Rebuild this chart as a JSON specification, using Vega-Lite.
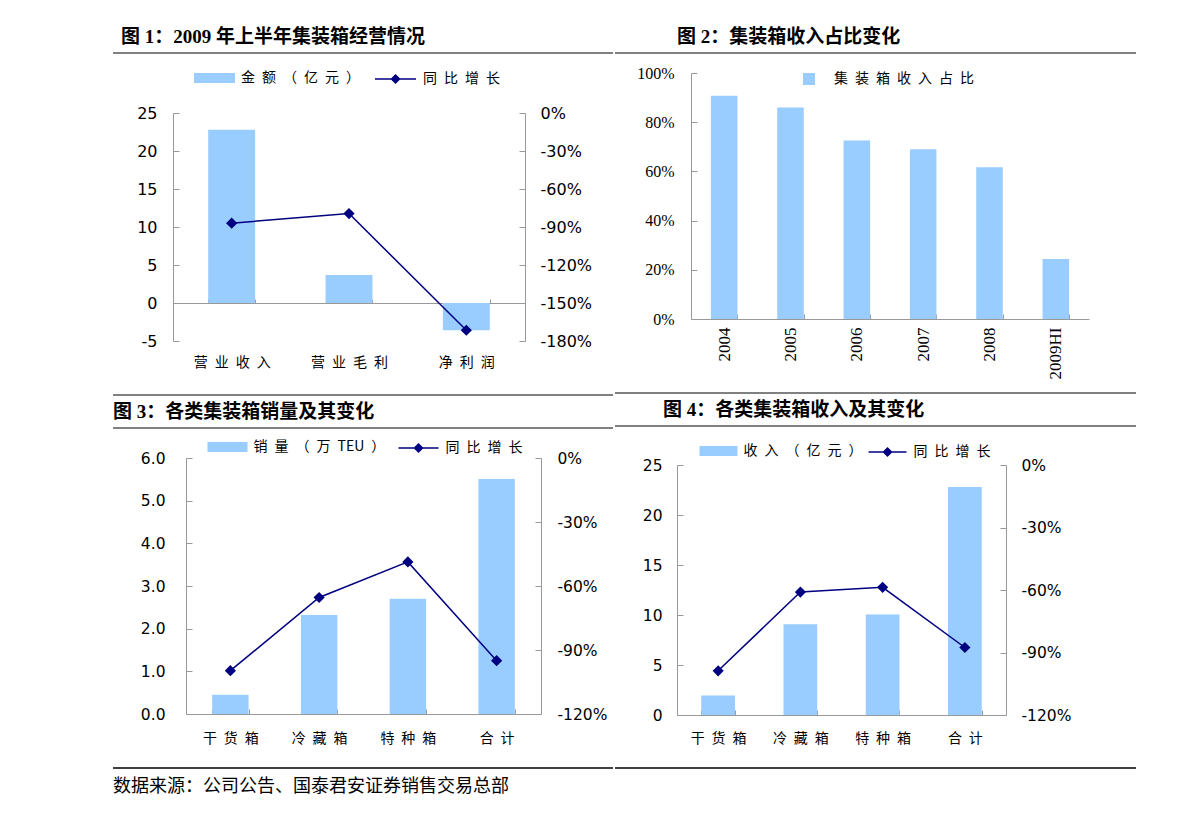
{
  "$schema": "https://vega.github.io/schema/vega-lite/v6.json",
  "background": "white",
  "padding": {"left": 112, "top": 23, "right": 0, "bottom": 0},
  "autosize": {"type": "pad"},
  "config": {
    "view": {"stroke": null},
    "axis": {"domainColor": "#999999", "tickColor": "#999999", "labelColor": "#000000", "grid": false, "domainWidth": 1, "tickWidth": 1, "labelOverlap": false},
    "legend": {"padding": 0, "labelColor": "#000000", "labelFont": "Noto Sans CJK SC", "labelFontSize": 14, "labelLimit": 400}
  },
  "spacing": 0,
  "bounds": "full",
  "resolve": {"scale": {"fill": "independent", "stroke": "independent"}, "legend": {"fill": "independent", "stroke": "independent"}},
  "hconcat": [
    {
      "spacing": 0,
      "bounds": "full",
      "resolve": {"scale": {"fill": "independent", "stroke": "independent"}, "legend": {"fill": "independent", "stroke": "independent"}},
      "vconcat": [
        {
          "width": 500, "height": 30,
          "data": {"values": [{"t": "图 1：2009 年上半年集装箱经营情况"}]},
          "layer": [
            {"mark": {"type": "text", "align": "left", "baseline": "middle", "dx": 8, "font": "Liberation Serif, Noto Sans CJK SC", "fontSize": 19, "fontWeight": "bold", "color": "#000000"},
             "encoding": {"text": {"field": "t", "type": "nominal"},
               "x": {"datum": 0, "type": "quantitative", "scale": {"domain": [0, 1]}, "axis": null},
               "y": {"datum": 0.533, "type": "quantitative", "scale": {"domain": [0, 1]}, "axis": null}}},
            {"mark": {"type": "rule", "color": "#808080", "strokeWidth": 2},
             "encoding": {"y": {"datum": 0, "type": "quantitative", "scale": {"domain": [0, 1]}, "axis": null}}}
          ]
        },
        {"width": 1, "height": 16, "data": {"values": [{}]}, "mark": {"type": "rule", "strokeOpacity": 0}, "encoding": {}},
        {
          "spacing": 0,
          "bounds": "full",
          "resolve": {"scale": {"fill": "independent", "stroke": "independent"}, "legend": {"fill": "independent", "stroke": "independent"}},
          "hconcat": [
            {"width": 23, "height": 281, "data": {"values": [{}]}, "mark": {"type": "rule", "strokeOpacity": 0}, "encoding": {}},
            {
              "width": 352, "height": 228,
              "data": {"values": [
                {"cat": "营\u2002业\u2002收\u2002入", "v": 22.8, "g": -87},
                {"cat": "营\u2002业\u2002毛\u2002利", "v": 3.7, "g": -79.4},
                {"cat": "净\u2002利\u2002润", "v": -3.6, "g": -171.5}
              ]},
              "layer": [
                {"mark": {"type": "bar"},
                 "encoding": {
                   "x": {"field": "cat", "type": "nominal", "sort": null, "scale": {"paddingInner": 0.6, "paddingOuter": 0.3},
                         "axis": {"title": null, "orient": "bottom", "offset": -38, "domain": true, "ticks": true, "tickBand": "extent", "tickSize": -4, "labelAngle": 0, "labelPadding": 56, "labelFont": "Noto Sans CJK SC", "labelFontSize": 14}},
                   "y": {"field": "v", "type": "quantitative", "scale": {"domain": [-5, 25], "nice": false, "zero": false},
                         "axis": {"title": null, "orient": "left", "values": [-5, 0, 5, 10, 15, 20, 25], "labelExpr": "'' + datum.value", "labelOverlap": false, "tickSize": -6, "labelPadding": 22, "labelFont": "DejaVu Sans", "labelFontSize": 16}},
                   "fill": {"datum": "金\u2002额\u2002（\u2002亿\u2002元\u2002）", "type": "nominal", "scale": {"range": ["#99CCFF"]},
                            "legend": {"orient": "none", "legendX": 34.5, "legendY": -42, "title": null, "symbolType": "M-2.93,-0.714H2.93V0.714H-2.93Z", "symbolSize": 196, "labelOffset": 19.5, "symbolStrokeWidth": 0}}
                 }},
                {"mark": {"type": "line", "strokeWidth": 1.5, "point": {"shape": "diamond", "filled": true, "size": 70, "fill": "#000080"}},
                 "encoding": {
                   "x": {"field": "cat", "type": "nominal", "sort": null},
                   "y": {"field": "g", "type": "quantitative", "scale": {"domain": [-180, 0], "nice": false, "zero": false},
                         "axis": {"title": null, "orient": "right", "values": [-180, -150, -120, -90, -60, -30, 0], "labelExpr": "datum.value + '%'", "labelOverlap": false, "tickSize": -6, "labelPadding": 21, "labelFont": "DejaVu Sans", "labelFontSize": 16}},
                   "stroke": {"datum": "同\u2002比\u2002增\u2002长", "type": "nominal", "scale": {"range": ["#000080"]},
                              "legend": {"orient": "none", "legendX": 214.5, "legendY": -42, "title": null, "symbolType": "M-2.93,0H2.93M0,-0.57L0.57,0L0,0.57L-0.57,0Z", "symbolSize": 196, "labelOffset": 19.5, "symbolStrokeWidth": 1.5, "symbolFillColor": "#000080",
                                         "encode": {"symbols": {"update": {"fill": {"value": "#000080"}, "stroke": {"value": "#000080"}, "strokeWidth": {"value": 1.5}}}}}}
                 }}
              ],
              "resolve": {"scale": {"y": "independent"}}
            }
          ]
        },
        {
          "width": 500, "height": 33,
          "data": {"values": [{"t": "图 3：各类集装箱销量及其变化"}]},
          "layer": [
            {"mark": {"type": "text", "align": "left", "baseline": "middle", "dx": 0, "font": "Liberation Serif, Noto Sans CJK SC", "fontSize": 19, "fontWeight": "bold", "color": "#000000"},
             "encoding": {"text": {"field": "t", "type": "nominal"},
               "x": {"datum": 0, "type": "quantitative", "scale": {"domain": [0, 1]}, "axis": null},
               "y": {"datum": 0.5, "type": "quantitative", "scale": {"domain": [0, 1]}, "axis": null}}},
            {"mark": {"type": "rule", "color": "#808080", "strokeWidth": 2},
             "encoding": {"y": {"datum": 1, "type": "quantitative", "scale": {"domain": [0, 1]}, "axis": null}}},
            {"mark": {"type": "rule", "color": "#808080", "strokeWidth": 2},
             "encoding": {"y": {"datum": 0, "type": "quantitative", "scale": {"domain": [0, 1]}, "axis": null}}}
          ]
        },
        {"width": 1, "height": 10, "data": {"values": [{}]}, "mark": {"type": "rule", "strokeOpacity": 0}, "encoding": {}},
        {
          "spacing": 0,
          "bounds": "full",
          "resolve": {"scale": {"fill": "independent", "stroke": "independent"}, "legend": {"fill": "independent", "stroke": "independent"}},
          "hconcat": [
            {"width": 27, "height": 309, "data": {"values": [{}]}, "mark": {"type": "rule", "strokeOpacity": 0}, "encoding": {}},
            {
              "width": 355, "height": 256,
              "data": {"values": [
                {"cat": "干\u2002货\u2002箱", "v": 0.45, "g": -99.7},
                {"cat": "冷\u2002藏\u2002箱", "v": 2.32, "g": -65.4},
                {"cat": "特\u2002种\u2002箱", "v": 2.7, "g": -48.7},
                {"cat": "合\u2002计", "v": 5.51, "g": -95.0}
              ]},
              "layer": [
                {"mark": {"type": "bar"},
                 "encoding": {
                   "x": {"field": "cat", "type": "nominal", "sort": null, "scale": {"paddingInner": 0.59, "paddingOuter": 0.295},
                         "axis": {"title": null, "orient": "bottom", "tickBand": "extent", "tickSize": -5, "labelAngle": 0, "labelPadding": 22, "labelFont": "Noto Sans CJK SC", "labelFontSize": 14}},
                   "y": {"field": "v", "type": "quantitative", "scale": {"domain": [0, 6], "nice": false},
                         "axis": {"title": null, "orient": "left", "values": [0, 1, 2, 3, 4, 5, 6], "format": ".1f", "tickSize": -6, "labelPadding": 27, "labelFont": "DejaVu Sans", "labelFontSize": 15.5}},
                   "fill": {"datum": "销\u2002量\u2002（\u2002万\u2002TEU\u2002）", "type": "nominal", "scale": {"range": ["#99CCFF"]},
                            "legend": {"orient": "none", "legendX": 34.5, "legendY": -18, "title": null, "symbolType": "M-2.86,-0.714H2.86V0.714H-2.86Z", "symbolSize": 196, "labelOffset": 19, "symbolStrokeWidth": 0}}
                 }},
                {"mark": {"type": "line", "strokeWidth": 1.5, "point": {"shape": "diamond", "filled": true, "size": 70, "fill": "#000080"}},
                 "encoding": {
                   "x": {"field": "cat", "type": "nominal", "sort": null},
                   "y": {"field": "g", "type": "quantitative", "scale": {"domain": [-120, 0], "nice": false, "zero": false},
                         "axis": {"title": null, "orient": "right", "values": [-120, -90, -60, -30, 0], "labelExpr": "datum.value + '%'", "tickSize": -6, "labelPadding": 22, "labelFont": "DejaVu Sans", "labelFontSize": 15.5}},
                   "stroke": {"datum": "同\u2002比\u2002增\u2002长", "type": "nominal", "scale": {"range": ["#000080"]},
                              "legend": {"orient": "none", "legendX": 224.5, "legendY": -18, "title": null, "symbolType": "M-2.86,0H2.86M0,-0.57L0.57,0L0,0.57L-0.57,0Z", "symbolSize": 196, "labelOffset": 19, "symbolStrokeWidth": 1.5, "symbolFillColor": "#000080",
                                         "encode": {"symbols": {"update": {"fill": {"value": "#000080"}, "stroke": {"value": "#000080"}, "strokeWidth": {"value": 1.5}}}}}}
                 }}
              ],
              "resolve": {"scale": {"y": "independent"}}
            }
          ]
        },
        {
          "width": 500, "height": 34,
          "data": {"values": [{"t": "数据来源：公司公告、国泰君安证券销售交易总部"}]},
          "layer": [
            {"mark": {"type": "text", "align": "left", "baseline": "middle", "dx": 0, "font": "Noto Sans CJK SC", "fontSize": 18, "color": "#000000"},
             "encoding": {"text": {"field": "t", "type": "nominal"},
               "x": {"datum": 0, "type": "quantitative", "scale": {"domain": [0, 1]}, "axis": null},
               "y": {"datum": 0.44, "type": "quantitative", "scale": {"domain": [0, 1]}, "axis": null}}},
            {"mark": {"type": "rule", "color": "#000000", "strokeWidth": 1.5},
             "encoding": {"y": {"datum": 1, "type": "quantitative", "scale": {"domain": [0, 1]}, "axis": null}}}
          ]
        }
      ]
    },
    {
      "spacing": 0,
      "bounds": "full",
      "resolve": {"scale": {"fill": "independent", "stroke": "independent"}, "legend": {"fill": "independent", "stroke": "independent"}},
      "vconcat": [
        {
          "width": 521, "height": 30,
          "data": {"values": [{"t": "图 2：集装箱收入占比变化"}]},
          "layer": [
            {"mark": {"type": "text", "align": "left", "baseline": "middle", "dx": 62, "font": "Liberation Serif, Noto Sans CJK SC", "fontSize": 19, "fontWeight": "bold", "color": "#000000"},
             "encoding": {"text": {"field": "t", "type": "nominal"},
               "x": {"datum": 0, "type": "quantitative", "scale": {"domain": [0, 1]}, "axis": null},
               "y": {"datum": 0.533, "type": "quantitative", "scale": {"domain": [0, 1]}, "axis": null}}},
            {"mark": {"type": "rule", "color": "#808080", "strokeWidth": 2},
             "encoding": {"y": {"datum": 0, "type": "quantitative", "scale": {"domain": [0, 1]}, "axis": null}}}
          ]
        },
        {"width": 1, "height": 10, "data": {"values": [{}]}, "mark": {"type": "rule", "strokeOpacity": 0}, "encoding": {}},
        {
          "spacing": 0,
          "bounds": "full",
          "resolve": {"scale": {"fill": "independent", "stroke": "independent"}, "legend": {"fill": "independent", "stroke": "independent"}},
          "hconcat": [
            {"width": 21, "height": 319, "data": {"values": [{}]}, "mark": {"type": "rule", "strokeOpacity": 0}, "encoding": {}},
            {
              "width": 398, "height": 246,
              "data": {"values": [
                {"yr": "2004", "v": 90.8},
                {"yr": "2005", "v": 86.0},
                {"yr": "2006", "v": 72.6},
                {"yr": "2007", "v": 69.0},
                {"yr": "2008", "v": 61.7},
                {"yr": "2009HI", "v": 24.4}
              ]},
              "mark": {"type": "bar"},
              "encoding": {
                "x": {"field": "yr", "type": "nominal", "sort": null, "scale": {"paddingInner": 0.6, "paddingOuter": 0.3},
                      "axis": {"title": null, "orient": "bottom", "labelAngle": -90, "labelFont": "Liberation Serif", "labelFontSize": 17, "tickBand": "extent", "tickSize": -5, "labelPadding": 13}},
                "y": {"field": "v", "type": "quantitative", "scale": {"domain": [0, 100], "nice": false},
                      "axis": {"title": null, "values": [0, 20, 40, 60, 80, 100], "labelExpr": "datum.value + '%'", "labelFont": "Liberation Serif", "labelFontSize": 16, "tickSize": -6, "labelPadding": 23}},
                "fill": {"datum": "集\u2002装\u2002箱\u2002收\u2002入\u2002占\u2002比", "type": "nominal", "scale": {"range": ["#99CCFF"]},
                         "legend": {"orient": "none", "legendX": 111, "legendY": -1, "title": null, "symbolType": "square", "symbolSize": 144, "labelOffset": 18, "symbolStrokeWidth": 0}}
              }
            }
          ]
        },
        {
          "width": 521, "height": 33,
          "data": {"values": [{"t": "图 4：各类集装箱收入及其变化"}]},
          "layer": [
            {"mark": {"type": "text", "align": "left", "baseline": "middle", "dx": 48, "font": "Liberation Serif, Noto Sans CJK SC", "fontSize": 19, "fontWeight": "bold", "color": "#000000"},
             "encoding": {"text": {"field": "t", "type": "nominal"},
               "x": {"datum": 0, "type": "quantitative", "scale": {"domain": [0, 1]}, "axis": null},
               "y": {"datum": 0.5, "type": "quantitative", "scale": {"domain": [0, 1]}, "axis": null}}},
            {"mark": {"type": "rule", "color": "#808080", "strokeWidth": 2},
             "encoding": {"y": {"datum": 1, "type": "quantitative", "scale": {"domain": [0, 1]}, "axis": null}}},
            {"mark": {"type": "rule", "color": "#808080", "strokeWidth": 2},
             "encoding": {"y": {"datum": 0, "type": "quantitative", "scale": {"domain": [0, 1]}, "axis": null}}}
          ]
        },
        {"width": 1, "height": 16, "data": {"values": [{}]}, "mark": {"type": "rule", "strokeOpacity": 0}, "encoding": {}},
        {
          "spacing": 0,
          "bounds": "full",
          "resolve": {"scale": {"fill": "independent", "stroke": "independent"}, "legend": {"fill": "independent", "stroke": "independent"}},
          "hconcat": [
            {"width": 27, "height": 302, "data": {"values": [{}]}, "mark": {"type": "rule", "strokeOpacity": 0}, "encoding": {}},
            {
              "width": 329, "height": 250,
              "data": {"values": [
                {"cat": "干\u2002货\u2002箱", "v": 1.94, "g": -98.8},
                {"cat": "冷\u2002藏\u2002箱", "v": 9.08, "g": -61},
                {"cat": "特\u2002种\u2002箱", "v": 10.05, "g": -58.7},
                {"cat": "合\u2002计", "v": 22.8, "g": -87.6}
              ]},
              "layer": [
                {"mark": {"type": "bar"},
                 "encoding": {
                   "x": {"field": "cat", "type": "nominal", "sort": null, "scale": {"paddingInner": 0.59, "paddingOuter": 0.295},
                         "axis": {"title": null, "orient": "bottom", "tickBand": "extent", "tickSize": -5, "labelAngle": 0, "labelPadding": 21, "labelFont": "Noto Sans CJK SC", "labelFontSize": 14}},
                   "y": {"field": "v", "type": "quantitative", "scale": {"domain": [0, 25], "nice": false},
                         "axis": {"title": null, "orient": "left", "values": [0, 5, 10, 15, 20, 25], "tickSize": -6, "labelPadding": 21, "labelFont": "DejaVu Sans", "labelFontSize": 15.5}},
                   "fill": {"datum": "收\u2002入\u2002（\u2002亿\u2002元\u2002）", "type": "nominal", "scale": {"range": ["#99CCFF"]},
                            "legend": {"orient": "none", "legendX": 34.5, "legendY": -21, "title": null, "symbolType": "M-2.71,-0.714H2.71V0.714H-2.71Z", "symbolSize": 196, "labelOffset": 18, "symbolStrokeWidth": 0}}
                 }},
                {"mark": {"type": "line", "strokeWidth": 1.5, "point": {"shape": "diamond", "filled": true, "size": 70, "fill": "#000080"}},
                 "encoding": {
                   "x": {"field": "cat", "type": "nominal", "sort": null},
                   "y": {"field": "g", "type": "quantitative", "scale": {"domain": [-120, 0], "nice": false, "zero": false},
                         "axis": {"title": null, "orient": "right", "values": [-120, -90, -60, -30, 0], "labelExpr": "datum.value + '%'", "tickSize": -6, "labelPadding": 21, "labelFont": "DejaVu Sans", "labelFontSize": 15.5}},
                   "stroke": {"datum": "同\u2002比\u2002增\u2002长", "type": "nominal", "scale": {"range": ["#000080"]},
                              "legend": {"orient": "none", "legendX": 202.5, "legendY": -21, "title": null, "symbolType": "M-2.71,0H2.71M0,-0.57L0.57,0L0,0.57L-0.57,0Z", "symbolSize": 196, "labelOffset": 18, "symbolStrokeWidth": 1.5, "symbolFillColor": "#000080",
                                         "encode": {"symbols": {"update": {"fill": {"value": "#000080"}, "stroke": {"value": "#000080"}, "strokeWidth": {"value": 1.5}}}}}}
                 }}
              ],
              "resolve": {"scale": {"y": "independent"}}
            }
          ]
        },
        {
          "width": 521, "height": 34,
          "data": {"values": [{}]},
          "mark": {"type": "rule", "color": "#000000", "strokeWidth": 1.5},
          "encoding": {"y": {"datum": 1, "type": "quantitative", "scale": {"domain": [0, 1]}, "axis": null}}
        }
      ]
    }
  ]
}
